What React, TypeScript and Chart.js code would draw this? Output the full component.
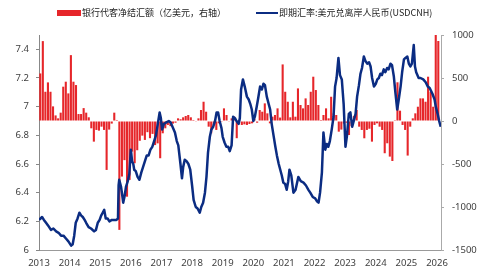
import React, { useEffect, useRef } from 'react';
import { Chart, registerables } from 'chart.js';

Chart.register(...registerables);

// Monthly bank net FX settlement on behalf of clients (亿美元), Jan 2013 .. Jan 2026
const flowStartYear = 2013;
const flows2013 = [553, 929, 340, 449, 340, 170, 65, 31, 97, 399, 457, 321];
const flows2014 = [766, 457, 418, 81, 81, 150, 97, 43, -85, -240, -104, -112];
const flows2015 = [-66, -104, -569, -100, -30, 97, 12, -1266, -646, -455, -880, -685];
const flows2016 = [-356, -491, -340, -230, -170, -220, -130, -200, -150, -280, -260, -433];
const flows2017 = [-143, -85, -46, -60, -30, -20, 31, 20, 43, 58, 70, 43];
const flows2018 = [12, -8, 31, 128, 224, 108, -66, -143, -46, -104, -27, -10];
const flows2019 = [147, 70, -8, 31, 50, -200, 12, -46, -39, -46, -35, -27];
const flows2020 = [20, -20, 128, 108, 205, 89, -27, 50, 70, 147, 40, 658];
const flows2021 = [340, 224, 43, 224, 50, 379, 186, 147, 263, 186, 340, 515];
const flows2022 = [360, 186, 12, 70, 147, 31, 282, 89, 70, -124, -100, -30];
const flows2023 = [-20, -163, -60, 60, 128, -66, -104, -201, -104, -90, -240, -46];
const flows2024 = [-27, -66, -104, -375, -259, -414, -465, 10, 450, 120, -46, -104];
const flows2025 = [-402, -66, 31, 89, 166, 263, 263, 224, 515, 340, 166, 1050];
const flows2026 = [930];
const flows = [
  ...flows2013, ...flows2014, ...flows2015, ...flows2016, ...flows2017, ...flows2018, ...flows2019,
  ...flows2020, ...flows2021, ...flows2022, ...flows2023, ...flows2024, ...flows2025, ...flows2026,
];

// Spot USDCNH (date as decimal year, rate)
const fxDates = [
  2013.0, 2013.05, 2013.1, 2013.16, 2013.23, 2013.3, 2013.39, 2013.47, 2013.56, 2013.64, 2013.72, 2013.8, 2013.88, 2013.96,
  2014.05, 2014.1, 2014.15, 2014.2, 2014.26, 2014.32, 2014.38, 2014.43, 2014.49, 2014.54, 2014.62, 2014.7, 2014.8, 2014.86, 2014.92, 2014.98,
  2015.03, 2015.08, 2015.13, 2015.18, 2015.24, 2015.3, 2015.38, 2015.46, 2015.53, 2015.58, 2015.6, 2015.62, 2015.68, 2015.72, 2015.75, 2015.8, 2015.84, 2015.9, 2015.95,
  2016.0, 2016.04, 2016.08, 2016.11, 2016.16, 2016.22, 2016.28, 2016.34, 2016.4, 2016.46, 2016.52, 2016.58, 2016.64, 2016.7, 2016.76, 2016.82, 2016.88, 2016.94, 2016.98,
  2017.02, 2017.08, 2017.16, 2017.24, 2017.3, 2017.36, 2017.44, 2017.5, 2017.55, 2017.62, 2017.67, 2017.71, 2017.76, 2017.82, 2017.88, 2017.94,
  2018.0, 2018.05, 2018.12, 2018.18, 2018.25, 2018.3, 2018.36, 2018.42, 2018.47, 2018.52, 2018.58, 2018.63, 2018.69, 2018.75, 2018.8, 2018.85, 2018.9, 2018.96,
  2019.0, 2019.06, 2019.12, 2019.18, 2019.23, 2019.29, 2019.34, 2019.4, 2019.45, 2019.52, 2019.56, 2019.6, 2019.66, 2019.72, 2019.79, 2019.85, 2019.9, 2019.95,
  2020.0, 2020.05, 2020.11, 2020.16, 2020.22, 2020.28, 2020.33, 2020.38, 2020.44, 2020.5, 2020.55, 2020.6, 2020.66, 2020.72, 2020.77, 2020.83, 2020.88, 2020.93, 2020.98,
  2021.04, 2021.09, 2021.14, 2021.18, 2021.24, 2021.31, 2021.38, 2021.47, 2021.55, 2021.64, 2021.72, 2021.8, 2021.86, 2021.94,
  2022.02, 2022.08, 2022.13, 2022.18, 2022.24, 2022.29, 2022.35, 2022.4, 2022.45, 2022.5, 2022.56, 2022.62, 2022.67, 2022.72, 2022.78, 2022.83, 2022.89, 2022.95,
  2023.01, 2023.06, 2023.12, 2023.17, 2023.23, 2023.28, 2023.34, 2023.39, 2023.45, 2023.5, 2023.55, 2023.61, 2023.66, 2023.72, 2023.78, 2023.83, 2023.88, 2023.94,
  2024.0, 2024.05, 2024.1, 2024.15, 2024.2, 2024.26, 2024.31, 2024.37, 2024.42, 2024.48, 2024.53, 2024.59, 2024.64, 2024.7, 2024.75, 2024.81, 2024.86, 2024.92, 2024.97,
  2025.03, 2025.08, 2025.13, 2025.18, 2025.24, 2025.28, 2025.32, 2025.4, 2025.46, 2025.55, 2025.63, 2025.7, 2025.76, 2025.85, 2025.92, 2025.96,
  2026.02, 2026.07, 2026.12,
];
const fxRates = [
  6.21, 6.22, 6.23, 6.21, 6.19, 6.17, 6.14, 6.15, 6.13, 6.12, 6.1, 6.1, 6.08, 6.06,
  6.03, 6.04, 6.1, 6.19, 6.22, 6.26, 6.24, 6.23, 6.21, 6.19, 6.16, 6.15, 6.13, 6.14, 6.19, 6.21,
  6.24, 6.26, 6.28, 6.22, 6.22, 6.2, 6.21, 6.21, 6.21, 6.22, 6.45, 6.49, 6.44, 6.38, 6.33, 6.38, 6.44, 6.48, 6.53,
  6.7, 6.62, 6.6, 6.56, 6.55, 6.51, 6.49, 6.54, 6.58, 6.62, 6.66, 6.66, 6.7, 6.72, 6.76, 6.8, 6.88, 6.96, 6.92,
  6.84, 6.88, 6.89, 6.9, 6.89, 6.86, 6.82, 6.76, 6.73, 6.6, 6.5, 6.58, 6.63, 6.62, 6.6, 6.56,
  6.45, 6.35, 6.3, 6.29, 6.26, 6.3, 6.33, 6.4, 6.51, 6.68, 6.79, 6.84, 6.86, 6.9, 6.96, 6.96, 6.9, 6.85,
  6.79, 6.75, 6.72, 6.72, 6.69, 6.73, 6.93, 6.92, 6.9, 6.88, 6.92, 7.12, 7.19, 7.14, 7.07, 7.05, 7.02, 6.98,
  6.9, 6.93, 7.0, 7.06, 7.14, 7.12, 7.16, 7.15, 7.07, 7.02, 6.98, 6.88, 6.8, 6.72, 6.66, 6.6, 6.56, 6.52, 6.47,
  6.46, 6.42, 6.48, 6.56, 6.52, 6.4, 6.42, 6.51, 6.48, 6.47, 6.45, 6.42, 6.4, 6.37,
  6.36, 6.34, 6.33, 6.4, 6.54, 6.82, 6.7, 6.74, 6.72, 6.76, 6.84, 6.93, 7.14, 7.2, 7.34, 7.22, 7.19, 7.02,
  6.72, 6.8, 6.95, 6.96, 6.86, 6.9, 6.95, 7.07, 7.15, 7.23, 7.27, 7.35, 7.32, 7.3, 7.31, 7.28, 7.2, 7.14,
  7.16, 7.19, 7.2, 7.23, 7.22, 7.26, 7.24, 7.27, 7.26, 7.3, 7.29, 7.21, 7.1, 6.98, 7.05, 7.14, 7.24, 7.33, 7.34,
  7.35, 7.3, 7.28, 7.3, 7.43, 7.28, 7.24, 7.2, 7.2, 7.19, 7.17, 7.14, 7.13, 7.09, 7.05, 7.0,
  6.95, 6.9, 6.86,
];

const yearTicks = [2013, 2014, 2015, 2016, 2017, 2018, 2019, 2020, 2021, 2022, 2023, 2024, 2025, 2026];

const barLabel = '银行代客净结汇额（亿美元，右轴）';
const lineLabel = '即期汇率:美元兑离岸人民币(USDCNH)';

const RED = '#e6262a';
const NAVY = '#0b2c82';
const TICK_COLOR = '#404040';
const TICK_FONT = { size: 9.5, family: '"Noto Sans", "Open Sans", sans-serif' };
const CJK_FONT = '"Noto Sans CJK SC", "Noto Sans", sans-serif';

export default function App() {
  const ref = useRef<HTMLCanvasElement>(null);

  useEffect(() => {
    document.body.style.margin = '0';
    const canvas = ref.current;
    if (!canvas) return;
    const chart = new Chart(canvas, {
      type: 'bar',
      data: {
        datasets: [
          {
            type: 'line',
            label: lineLabel,
            data: fxDates.map((x, i) => ({ x, y: fxRates[i] })),
            yAxisID: 'y',
            borderColor: NAVY,
            backgroundColor: NAVY,
            borderWidth: 2.5,
            borderJoinStyle: 'round',
            pointRadius: 0,
            tension: 0,
            order: 1,
          } as any,
          {
            type: 'bar',
            label: barLabel,
            data: flows.map((v, i) => ({ x: flowStartYear + (i + 0.5) / 12, y: v })),
            yAxisID: 'y1',
            backgroundColor: RED,
            barPercentage: 0.82,
            categoryPercentage: 1,
            order: 2,
          } as any,
        ],
      },
      options: {
        responsive: false,
        animation: false,
        layout: { padding: { top: 35, left: 0, right: 0, bottom: 0 } },
        plugins: { legend: { display: false }, tooltip: { enabled: false } },
        scales: {
          x: {
            type: 'linear',
            min: 2013,
            max: 2026.13,
            offset: false,
            grid: { display: false, drawTicks: false },
            border: { display: true, color: '#9a9a9a', width: 1 },
            afterBuildTicks: (s: any) => {
              s.ticks = yearTicks.map((v) => ({ value: v }));
            },
            afterFit: (s: any) => {
              s.height = 20;
            },
            ticks: {
              padding: 8,
              color: TICK_COLOR,
              font: TICK_FONT,
              maxRotation: 0,
              autoSkip: false,
              callback: (v: any) => String(v),
            },
          },
          y: {
            type: 'linear',
            position: 'left',
            min: 6,
            max: 7.5,
            grid: { drawOnChartArea: false, drawTicks: true, tickLength: 3, color: '#888' },
            border: { display: true, color: '#888', width: 1 },
            afterFit: (s: any) => {
              s.width = 39;
            },
            ticks: {
              stepSize: 0.2,
              includeBounds: false,
              padding: 7,
              color: TICK_COLOR,
              font: TICK_FONT,
              callback: (v: any) => String(Math.round(Number(v) * 10) / 10),
            },
          },
          y1: {
            type: 'linear',
            position: 'right',
            min: -1500,
            max: 1000,
            grid: { drawOnChartArea: false, drawTicks: true, tickLength: 3, color: '#aaa' },
            border: { display: true, color: '#aaa', width: 1 },
            afterFit: (s: any) => {
              s.width = 39;
            },
            ticks: {
              stepSize: 500,
              padding: 8,
              color: TICK_COLOR,
              font: TICK_FONT,
              callback: (v: any) => String(v),
            },
          },
        },
      } as any,
    });
    return () => chart.destroy();
  }, []);

  const textStyle: React.CSSProperties = {
    position: 'absolute',
    top: 4,
    height: 18,
    lineHeight: '18px',
    fontFamily: CJK_FONT,
    fontSize: 9,
    color: '#222',
    whiteSpace: 'nowrap',
  };

  return (
    <div style={{ position: 'relative', width: 480, height: 270, background: '#fff', overflow: 'hidden' }}>
      <canvas ref={ref} width={480} height={270} style={{ display: 'block' }} />
      <div style={{ position: 'absolute', left: 57, top: 10, width: 24, height: 6, background: RED }} />
      <div style={{ ...textStyle, left: 82 }}>{barLabel}</div>
      <div style={{ position: 'absolute', left: 256, top: 12, width: 22, height: 2, background: NAVY }} />
      <div style={{ ...textStyle, left: 279 }}>{lineLabel}</div>
    </div>
  );
}
